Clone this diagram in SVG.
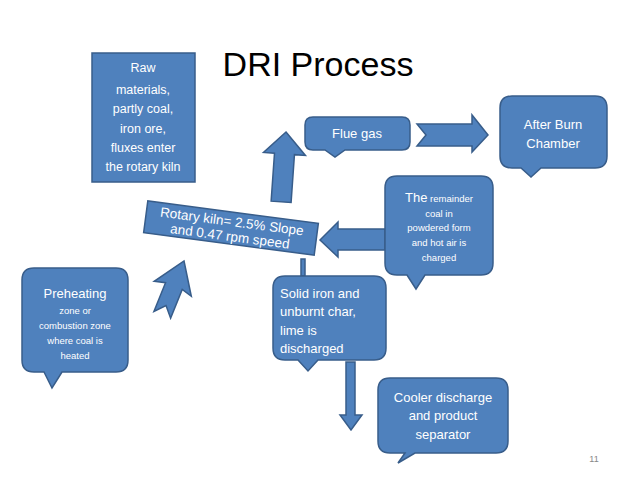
<svg xmlns="http://www.w3.org/2000/svg" width="638" height="479" viewBox="0 0 638 479">
<style>
.s{fill:#4F81BD;stroke:#385D8A;stroke-width:1.5}
.t{fill:#fff;font-family:"Liberation Sans",Arial,sans-serif;text-anchor:middle}
</style>
<rect width="638" height="479" fill="#fff"/>
<text x="318" y="76" font-family="Liberation Sans,Arial,sans-serif" font-size="34" text-anchor="middle" fill="#000">DRI Process</text>
<g id="connectors">
<path class="s" d="M417,124 L472,124 L472,115 L488,135 L472,152 L472,146 L417,146 L426,135 Z"/>
<path class="s" transform="translate(286,132) rotate(4)" d="M0,0 L21,22 L10,22 L10,70 L-10,70 L-10,22 L-21,22 Z"/>
<path class="s" d="M320,240 L338,222 L338,229 L385,229 L385,250 L338,250 L338,257 Z"/>
<rect class="s" x="301" y="259" width="4" height="17"/>
<path class="s" d="M346,362 L355,362 L355,415 L362,415 L351,430 L340,415 L346,415 Z"/>
<path class="s" transform="translate(184,261) rotate(22)" d="M0,0 L20,30 L9,27 L9,58 L0,48 L-9,58 L-9,27 L-20,30 Z"/>
</g>
<g id="raw"><rect class="s" x="92" y="53" width="103" height="129"/>
<text class="t" font-size="12.5"><tspan x="143" y="72">Raw</tspan><tspan x="143" y="94">materials,</tspan><tspan x="143" y="113">partly coal,</tspan><tspan x="143" y="133">iron ore,</tspan><tspan x="143" y="152">fluxes enter</tspan><tspan x="143" y="171">the rotary kiln</tspan></text></g>
<g id="flue"><path class="s" d="M313,117 H402 Q410,117 410,125 V142 Q410,150 402,150 H345 L335,157 L325,150 H313 Q305,150 305,142 V125 Q305,117 313,117 Z"/>
<text class="t" x="357" y="138" font-size="13">Flue gas</text></g>
<g id="afterburn"><path class="s" d="M512,96 H595 Q607,96 607,108 V156 Q607,168 595,168 H541 L531,177 L521,168 H512 Q500,168 500,156 V108 Q500,96 512,96 Z"/>
<text class="t" font-size="13"><tspan x="553" y="129">After Burn</tspan><tspan x="553" y="148">Chamber</tspan></text></g>
<g id="kiln"><g transform="translate(231,228) rotate(7.5)"><rect class="s" x="-86" y="-16" width="172" height="32"/>
<text class="t" font-size="13.5"><tspan x="0" y="-2">Rotary kiln= 2.5% Slope</tspan><tspan x="0" y="13">and 0.47 rpm speed</tspan></text></g></g>
<g id="remainder"><path class="s" d="M397,176 H481 Q493,176 493,188 V263 Q493,275 481,275 H425 L416,289 L407,275 H397 Q385,275 385,263 V188 Q385,176 397,176 Z"/>
<text class="t" font-size="9.5"><tspan x="439" y="202"><tspan font-size="13">The</tspan> remainder</tspan><tspan x="439" y="217">coal in</tspan><tspan x="439" y="231">powdered form</tspan><tspan x="439" y="246">and hot air is</tspan><tspan x="439" y="261">charged</tspan></text></g>
<g id="solid"><path class="s" d="M285,276 H374 Q386,276 386,288 V348 Q386,360 374,360 H318 L308,371 L298,360 H285 Q273,360 273,348 V288 Q273,276 285,276 Z"/>
<text class="t" font-size="13" text-anchor="start"><tspan x="280" y="298" text-anchor="start">Solid iron and</tspan><tspan x="280" y="316" text-anchor="start">unburnt char,</tspan><tspan x="280" y="335" text-anchor="start">lime is</tspan><tspan x="280" y="353" text-anchor="start">discharged</tspan></text></g>
<g id="preheat"><path class="s" d="M34,268 H116 Q128,268 128,280 V360 Q128,372 116,372 H62 L52,388 L44,372 H34 Q22,372 22,360 V280 Q22,268 34,268 Z"/>
<text class="t" font-size="9.5"><tspan x="75" y="298" font-size="13">Preheating</tspan><tspan x="75" y="314">zone or</tspan><tspan x="75" y="329">combustion zone</tspan><tspan x="75" y="344">where coal is</tspan><tspan x="75" y="359">heated</tspan></text></g>
<g id="cooler"><path class="s" d="M390,378 H496 Q508,378 508,390 V441 Q508,453 496,453 H415 L398,463 L405,453 H390 Q378,453 378,441 V390 Q378,378 390,378 Z"/>
<text class="t" font-size="13"><tspan x="443" y="402">Cooler discharge</tspan><tspan x="443" y="420">and product</tspan><tspan x="443" y="439">separator</tspan></text></g>
<text x="594" y="462" font-family="Liberation Sans,Arial,sans-serif" font-size="9" fill="#888" text-anchor="middle">11</text>
</svg>
